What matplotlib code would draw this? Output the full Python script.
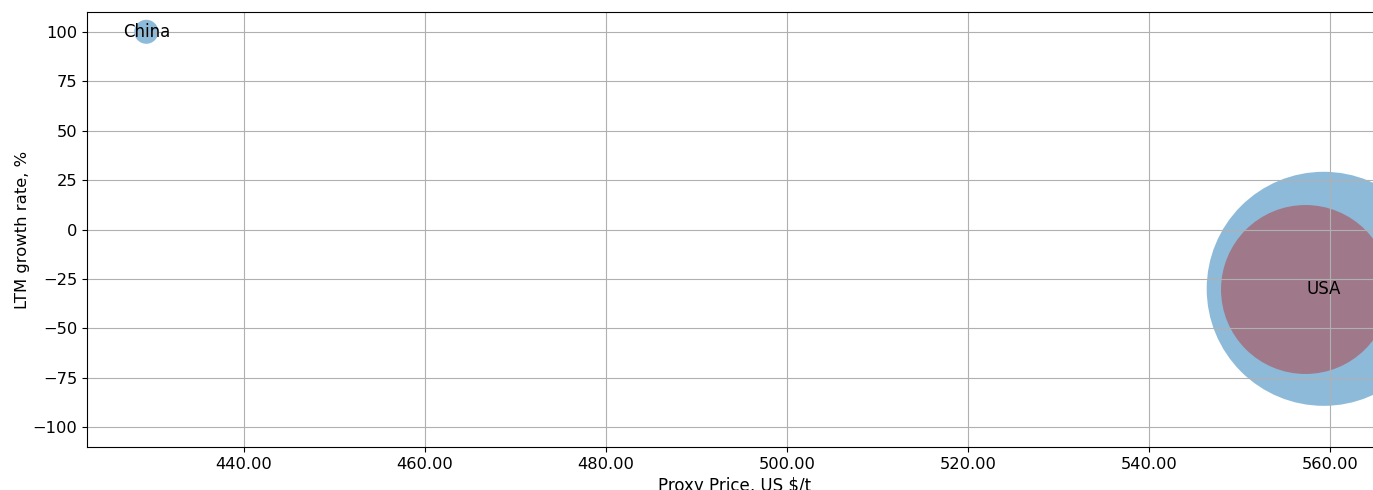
import matplotlib
matplotlib.use("Agg")
import matplotlib.pyplot as plt
from matplotlib.ticker import FormatStrFormatter

# Data
countries = ["China", "USA"]
price = [429.2, 559.3]          # Proxy price, US $/t
growth = [100, -30]             # LTM growth rate, %
bubble_size = [300, 28400]      # total volume bubble (points^2)
# second (inner) bubble for USA
inner_price = [557.2]
inner_growth = [-30]
inner_size = [14800]

W, H, DPI = 1373, 490, 100
fig = plt.figure(figsize=(W / DPI, H / DPI), dpi=DPI)
left_px, right_px, top_px, bottom_px = 87, 1383, 12, 447
ax = fig.add_axes([left_px / W, (H - bottom_px) / H,
                   (right_px - left_px) / W, (bottom_px - top_px) / H])

ax.scatter(price, growth, s=bubble_size, color="#1f77b4", alpha=0.5, linewidths=0)
ax.scatter(inner_price, inner_growth, s=inner_size, color="#b03a3a", alpha=0.5, linewidths=0)

for name, x, y in zip(countries, price, growth):
    ax.text(x, y, name, ha="center", va="center", fontsize=12)

ax.set_xlim(422.65, 565.85)
ax.set_ylim(-110, 110)
ax.set_xticks([440, 460, 480, 500, 520, 540, 560])
ax.set_yticks([-100, -75, -50, -25, 0, 25, 50, 75, 100])
ax.xaxis.set_major_formatter(FormatStrFormatter("%.2f"))
ax.tick_params(labelsize=11.7)
ax.grid(True, color="#b0b0b0", linewidth=0.8)
ax.set_xlabel("Proxy Price, US $/t", fontsize=12)
ax.set_ylabel("LTM growth rate, %", fontsize=11.8, labelpad=2)

fig.savefig("out.png", dpi=DPI)
